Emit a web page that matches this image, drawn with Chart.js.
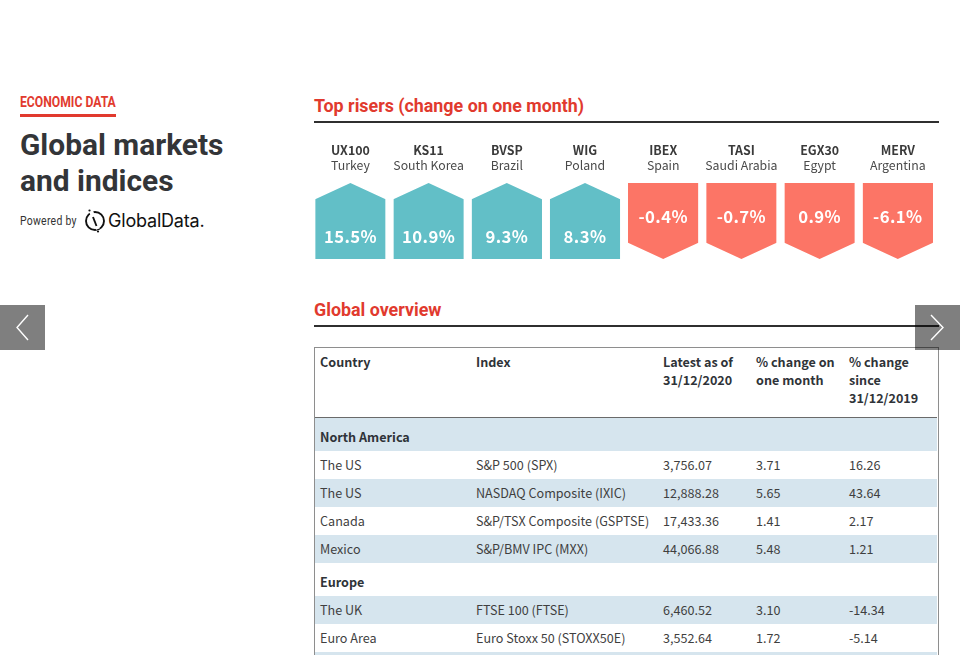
<!DOCTYPE html>
<html><head><meta charset="utf-8">
<script src="https://cdn.jsdelivr.net/npm/chart.js@4/dist/chart.umd.min.js"></script>
<style>
html,body{margin:0;padding:0;background:#fff;width:960px;height:655px;overflow:hidden;position:relative;}
.a{position:absolute;white-space:nowrap;}
.sec{font:700 17.85px/22px Roboto,sans-serif;color:#e13a2e;left:314px;}
.rule{position:absolute;left:314px;width:625px;height:2px;background:#2f2f2f;}
#chartwrap{position:absolute;left:300px;top:140px;width:650px;height:122px;}
#tbl{position:absolute;left:314px;top:347px;width:623px;height:320px;border:1px solid #8e8e8e;border-bottom:none;font:12.6px/18px "Noto Sans CJK SC",sans-serif;color:#3f3f3f;}
.row{position:absolute;left:0;width:622px;}
.row span{position:absolute;white-space:nowrap;}
.blue{background:#d6e5ee;}
.b{font-weight:700;color:#2f3338;}
.btn{position:absolute;top:305px;width:45px;height:45px;background:rgba(0,0,0,.5);}
</style></head><body>
<div class="a" style="left:20px;top:94px;font:700 14.5px/17px Roboto,sans-serif;color:#e13a2e;transform-origin:0 0;transform:scaleX(.84)">ECONOMIC DATA</div>
<div class="a" style="left:20px;top:114px;width:96px;height:3px;background:#e13a2e"></div>
<div class="a" style="left:20px;top:127px;font:700 29.9px/36px Roboto,sans-serif;color:#333538">Global markets<br>and indices</div>
<div class="a" style="left:20px;top:213px;font:400 12px/16px Roboto,sans-serif;color:#333;transform-origin:0 0;transform:scaleX(.87);letter-spacing:.3px">Powered by</div>
<svg class="a" style="left:84px;top:208px" width="24" height="26" viewBox="0 0 24 26"><circle cx="11" cy="13" r="9" fill="none" stroke="#111" stroke-width="1.9"/><path d="M7 3 L14 21" stroke="#fff" stroke-width="4"/><path d="M9 9 L12.5 18" stroke="#111" stroke-width="1.9"/><circle cx="5.5" cy="2.5" r="1.1" fill="#111"/><circle cx="14" cy="23.5" r="1.1" fill="#111"/></svg>
<div class="a" style="left:108px;top:211px;font:400 18px/20px Inter,sans-serif;color:#111;letter-spacing:-.2px">GlobalData.</div>

<div class="a sec" style="top:95px">Top risers (change on one month)</div>
<div class="rule" style="top:121px"></div>
<div id="chartwrap"><canvas id="c" width="650" height="122"></canvas></div>

<div class="a sec" style="top:299px">Global overview</div>
<div class="rule" style="top:325px"></div>
<div id="tbl"></div>
<div class="btn" style="left:0"><svg width="45" height="45"><polyline points="28,10 17,22.5 28,35" fill="none" stroke="#fff" stroke-width="1.4"/></svg></div>
<div class="btn" style="left:915px"><svg width="45" height="45"><polyline points="16,10 28,22.5 16,35" fill="none" stroke="#fff" stroke-width="1.4"/></svg></div>

<script>
const indexCodes = ['UX100','KS11','BVSP','WIG','IBEX','TASI','EGX30','MERV'];
const indexCountries = ['Turkey','South Korea','Brazil','Poland','Spain','Saudi Arabia','Egypt','Argentina'];
const monthChange = ['15.5%','10.9%','9.3%','8.3%','-0.4%','-0.7%','0.9%','-6.1%'];
const badgeDirection = ['up','up','up','up','down','down','down','down'];
const badgeExtent = [1,1,1,1,1,1,1,1];

const tableHeader = [['Country'],['Index'],['Latest as of','31/12/2020'],['% change on','one month'],['% change','since','31/12/2019']];
const rowsNorthAmerica = [
  ['The US','S&P 500 (SPX)','3,756.07','3.71','16.26'],
  ['The US','NASDAQ Composite (IXIC)','12,888.28','5.65','43.64'],
  ['Canada','S&P/TSX Composite (GSPTSE)','17,433.36','1.41','2.17'],
  ['Mexico','S&P/BMV IPC (MXX)','44,066.88','5.48','1.21']];
const rowsEurope = [
  ['The UK','FTSE 100 (FTSE)','6,460.52','3.10','-14.34'],
  ['Euro Area','Euro Stoxx 50 (STOXX50E)','3,552.64','1.72','-5.14']];

const colors = {up:'#62bfc7', down:'#fc7566'};
const FONT = '"Noto Sans CJK SC", sans-serif';

const pentagons = {
  id:'pentagons',
  beforeDatasetDraw(chart,args){
    const ctx = chart.ctx, top = chart.scales.y.getPixelForValue(1), bot = chart.scales.y.getPixelForValue(0);
    const cut = (bot-top)*0.215;
    ctx.save(); ctx.beginPath();
    args.meta.data.forEach((el,i)=>{
      const l = el.x-el.width/2, r = el.x+el.width/2;
      if(badgeDirection[i]==='up'){
        ctx.moveTo(l,top+cut); ctx.lineTo(el.x,top); ctx.lineTo(r,top+cut); ctx.lineTo(r,bot); ctx.lineTo(l,bot);
      } else {
        ctx.moveTo(l,top); ctx.lineTo(r,top); ctx.lineTo(r,bot-cut); ctx.lineTo(el.x,bot); ctx.lineTo(l,bot-cut);
      }
      ctx.closePath();
    });
    ctx.clip();
  },
  afterDatasetDraw(chart){ chart.ctx.restore(); },
  afterDatasetsDraw(chart){
    const ctx = chart.ctx, y0 = chart.scales.y.getPixelForValue(0), y1 = chart.scales.y.getPixelForValue(1);
    const meta = chart.getDatasetMeta(0);
    ctx.save();
    ctx.fillStyle='#fff'; ctx.textAlign='center'; ctx.textBaseline='middle';
    ctx.font='700 16.7px '+FONT; ctx.letterSpacing='0.4px';
    meta.data.forEach((el,i)=>{
      const y = badgeDirection[i]==='up' ? y0-22.5 : y1+34;
      ctx.fillText(monthChange[i],el.x,y);
    });
    ctx.restore();
  }
};

new Chart(document.getElementById('c'),{
  type:'bar',
  data:{labels:indexCodes,datasets:[{
    label:'Change on one month',
    data:badgeExtent,
    backgroundColor:badgeDirection.map(d=>colors[d]),
    barPercentage:0.9,categoryPercentage:1,borderWidth:0
  }]},
  options:{
    responsive:false,animation:false,devicePixelRatio:1,
    layout:{padding:{left:11.3,right:13.1,top:0,bottom:3}},
    plugins:{legend:{display:false},tooltip:{enabled:false}},
    scales:{
      x:{position:'top',weight:1,offset:true,grid:{display:false,drawTicks:false},border:{display:false},
        ticks:{autoSkip:false,maxRotation:0,padding:0,color:'#3a3a3a',font:{family:FONT,size:12.4,weight:'700'}},
        afterFit(s){s.height=18;}},
      x2:{type:'category',labels:indexCountries,position:'top',weight:0,offset:true,grid:{display:false,drawTicks:false},border:{display:false},
        ticks:{autoSkip:false,maxRotation:0,padding:10,color:'#4a4a4a',font:{family:FONT,size:12.3}},
        afterFit(s){s.height=25;}},
      y:{display:false,min:0,max:1}
    }
  },
  plugins:[pentagons]
});

const COLX=[5,161,348,441,534];
const tbl=document.getElementById('tbl');
function addRow(top,h,cells,cls,textTop){
  const r=document.createElement('div');r.className='row '+cls;r.style.top=top+'px';r.style.height=h+'px';
  cells.forEach((t,i)=>{const s=document.createElement('span');s.style.left=COLX[i]+'px';s.style.top=textTop+'px';s.textContent=t;r.appendChild(s);});
  tbl.appendChild(r);
}
const hd=document.createElement('div');hd.className='row b';hd.style.top='0';hd.style.height='69px';hd.style.borderBottom='1px solid #6a6a6a';
tableHeader.forEach((lines,i)=>{const s=document.createElement('span');s.style.left=COLX[i]+'px';s.style.top='5px';s.style.lineHeight='18px';s.innerHTML=lines.join('<br>');hd.appendChild(s);});
tbl.appendChild(hd);
let y=70;
addRow(y,33,['North America'],'blue b',10); y+=33;
rowsNorthAmerica.forEach((c,i)=>{addRow(y,28,c,i%2?'blue':'',5); y+=28;});
addRow(y,33,['Europe'],'b',10); y+=33;
rowsEurope.forEach((c,i)=>{addRow(y,28,c,i%2?'':'blue',5); y+=28;});
addRow(y,28,[],'blue',5);
</script>
</body></html>
